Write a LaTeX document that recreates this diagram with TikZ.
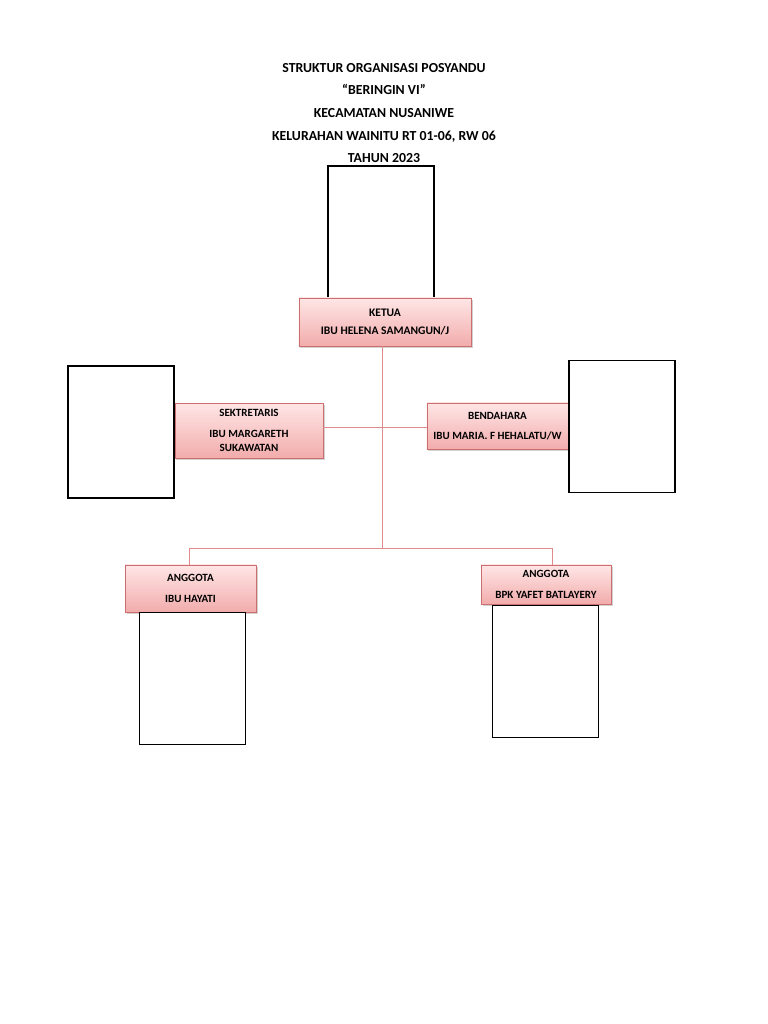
\documentclass[tikz,border=0pt]{standalone}
\usepackage{fontspec}
\setmainfont{Carlito}
\usetikzlibrary{shadows}
\usetikzlibrary{calc}

\definecolor{linkline}{RGB}{222,140,140}
\definecolor{boxedge}{RGB}{205,110,110}
\definecolor{boxtop}{RGB}{255,230,230}
\definecolor{boxbot}{RGB}{242,172,172}

\tikzset{
	jabatan/.style={draw=boxedge,line width=0.5pt,top color=boxtop,bottom color=boxbot,
		drop shadow={shadow xshift=1.2pt,shadow yshift=-1.5pt,fill=black!35},
		align=center,inner sep=0pt,font=\fontsize{8.8}{11.2}\selectfont\bfseries},
	foto/.style={draw=black,line width=1.1pt,fill=white,inner sep=0pt,
		minimum width=84.5pt,minimum height=105.2pt},
	garis/.style={draw=linkline,line width=0.6pt}
}

\begin{document}
\begin{tikzpicture}[x=0.797pt,y=-0.797pt]
	\fill[white] (0,0) rectangle (768,1024);
	\useasboundingbox (0,0) rectangle (768,1024);
% judul
	\node[align=center,font=\fontsize{11}{18}\selectfont\bfseries] (judul) at (384,113)
		{STRUKTUR ORGANISASI POSYANDU\\ \char"201C BERINGIN VI\char"201D\\ KECAMATAN NUSANIWE\\
		KELURAHAN WAINITU RT 01-06, RW 06\\ TAHUN 2023};
% garis
	\coordinate (tengah) at (382,427);
	\coordinate (bawah) at (382,548);
	\coordinate (kiri) at (189,548);
	\coordinate (kanan) at (552,548);
	\node[foto] (fotoketua) at (381,232) {};
	\node[jabatan,minimum width=137.1pt,minimum height=38.3pt,font=\fontsize{9.2}{11}\selectfont\bfseries] (ketua) at (385,322)
		{KETUA\\[3.5pt]IBU HELENA SAMANGUN/J};
	\node[jabatan,minimum width=118pt,minimum height=43.8pt] (sekretaris) at (249,430.5)
		{SEKTRETARIS\\[5pt]IBU MARGARETH\\SUKAWATAN};
	\node[jabatan,minimum width=112.4pt,minimum height=36.7pt] (bendahara) at (497.5,426)
		{BENDAHARA\\[5pt]IBU MARIA. F HEHALATU/W};
	\node[jabatan,minimum width=104.4pt,minimum height=37.5pt] (anggota1) at (190.5,588.5)
		{ANGGOTA\\[5pt]IBU HAYATI};
	\node[jabatan,minimum width=103.6pt,minimum height=31.1pt] (anggota2) at (546,584.5)
		{ANGGOTA\\[5pt]BPK YAFET BATLAYERY};
	\draw[garis] (ketua.south -| bawah) -- (bawah);
	\draw[garis] (sekretaris.east |- tengah) -- (bendahara.west |- tengah);
	\draw[garis] (anggota1.north -| kiri) -- (kiri) -- (kanan) -- (anggota2.north -| kanan);
% foto
	\node[foto] (fotosek) at (121,432) {};
	\node[foto] (fotobend) at (622,426.5) {};
	\node[foto] (fotoang1) at (192.5,678.5) {};
	\node[foto] (fotoang2) at (545.5,671.5) {};
\end{tikzpicture}
\end{document}
